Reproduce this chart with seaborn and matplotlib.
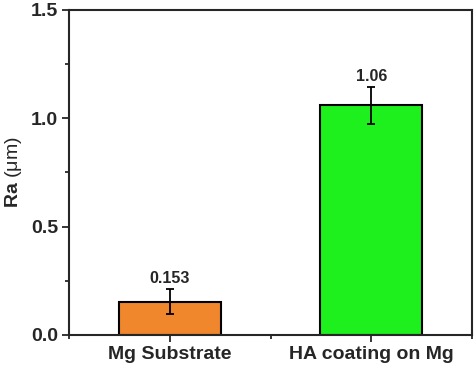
import pandas as pd
import matplotlib
matplotlib.use("Agg")
import matplotlib.pyplot as plt
from matplotlib.ticker import MultipleLocator
import seaborn as sns

# ===== Data =====
samples = ["Mg Substrate", "HA coating on Mg"]
ra_values = [0.153, 1.06]
ra_errors = [0.057, 0.085]
value_labels = ["0.153", "1.06"]
bar_colors = ["#F0872C", "#1EF01E"]

df = pd.DataFrame({"sample": samples, "ra": ra_values})

# ===== Plot =====
sns.set_style("ticks")
plt.rcParams["font.family"] = ["Liberation Sans", "DejaVu Sans"]
plt.rcParams["mathtext.fontset"] = "custom"
plt.rcParams["mathtext.rm"] = "Liberation Sans"
plt.rcParams["mathtext.bf"] = "Liberation Sans:bold"

fig = plt.figure(figsize=(4.74, 3.67), dpi=100)
ax = fig.add_axes([0.1456, 0.0872, 0.8502, 0.8856])

sns.barplot(data=df, x="sample", y="ra", hue="sample", palette=bar_colors,
            saturation=1, width=0.505, edgecolor="black", linewidth=1.5,
            errorbar=None, legend=False, ax=ax)
ax.errorbar(range(len(samples)), ra_values, yerr=ra_errors, fmt="none",
            ecolor="black", elinewidth=1.3, capsize=2.7, capthick=1.3)

for i, (v, e, lab) in enumerate(zip(ra_values, ra_errors, value_labels)):
    ax.text(i, v + e + 0.015, lab, ha="center", va="bottom",
            fontsize=11.5, fontweight="bold")

ax.set_xlim(-0.5, 1.5)
ax.set_ylim(0, 1.5)
ax.yaxis.set_minor_locator(MultipleLocator(0.25))
ax.xaxis.set_minor_locator(MultipleLocator(0.5))
ax.set_yticks([0, 0.5, 1.0, 1.5])
ax.set_yticklabels(["0.0", "0.5", "1.0", "1.5"], fontsize=14, fontweight="bold")
ax.set_xticks(range(len(samples)))
ax.set_xticklabels(samples, fontsize=14, fontweight="bold")
ax.tick_params(which="major", length=5, width=1.3, direction="out", pad=3)
ax.tick_params(which="minor", length=3, width=1.3, direction="out")

for s in ax.spines.values():
    s.set_linewidth(1.5)
    s.set_visible(True)

ax.set_xlabel("")
ax.set_ylabel(r"$\mathbf{Ra}$ (μm)", fontsize=14, labelpad=5)

fig.savefig("out.png", dpi=100)
